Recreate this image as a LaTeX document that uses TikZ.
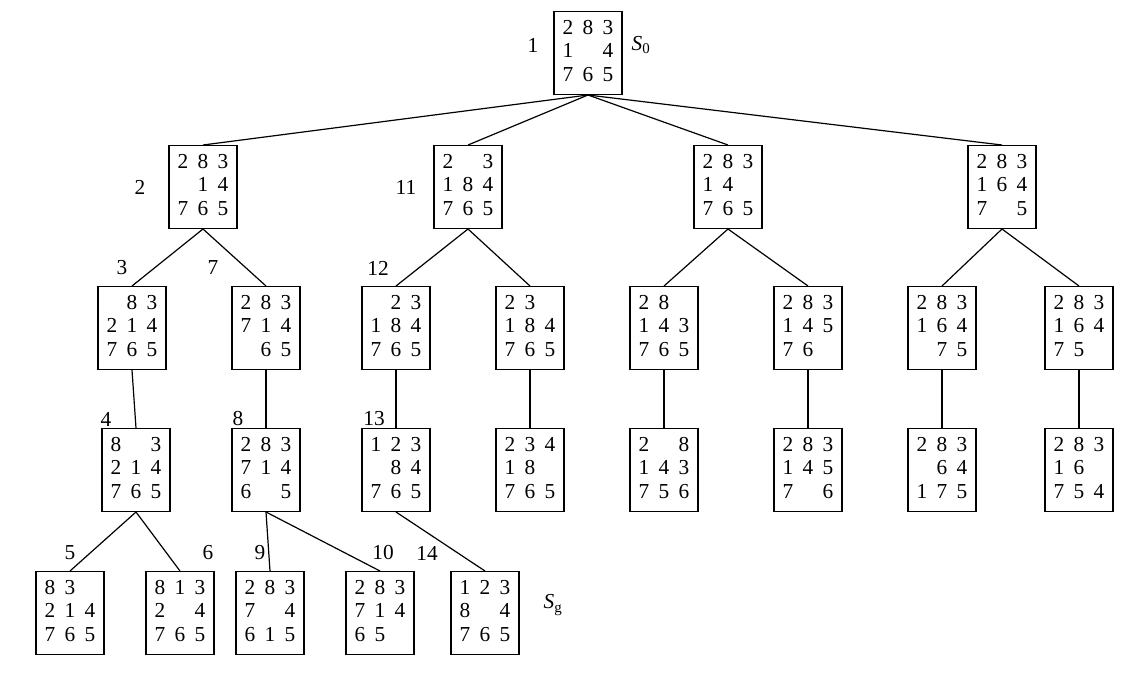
\documentclass[tikz,border=0pt]{standalone}
\usepackage{fontspec}
\usepackage{array}
\setmainfont{Liberation Serif}
\begin{document}
\begin{tikzpicture}[x=0.75pt,y=-0.75pt,
  box/.style={draw,line width=1pt,minimum width=51pt,minimum height=62pt,inner sep=0pt,font=\fontsize{16}{16}\selectfont},
  lab/.style={font=\fontsize{16}{16}\selectfont},
  edge/.style={line width=0.9pt}]
\useasboundingbox (0,0) rectangle (1146,693);
\setlength\tabcolsep{0pt}
\newcommand\pz[4]{\node[box] (#1) at (#2,#3) {\renewcommand\arraystretch{1.1}\begin{tabular}{*3{wc{15pt}}}#4\end{tabular}};}
\pz{r}{588}{53}{2&8&3\\1&&4\\7&6&5}
\pz{a}{203}{187}{2&8&3\\&1&4\\7&6&5}
\pz{b}{468}{187}{2&&3\\1&8&4\\7&6&5}
\pz{c}{728}{187}{2&8&3\\1&4&\\7&6&5}
\pz{d}{1002}{187}{2&8&3\\1&6&4\\7&&5}
\pz{a1}{132}{328}{&8&3\\2&1&4\\7&6&5}
\pz{a2}{266}{328}{2&8&3\\7&1&4\\&6&5}
\pz{b1}{396}{328}{&2&3\\1&8&4\\7&6&5}
\pz{b2}{530}{328}{2&3&\\1&8&4\\7&6&5}
\pz{c1}{664}{328}{2&8&\\1&4&3\\7&6&5}
\pz{c2}{808}{328}{2&8&3\\1&4&5\\7&6&}
\pz{d1}{942}{328}{2&8&3\\1&6&4\\&7&5}
\pz{d2}{1079}{328}{2&8&3\\1&6&4\\7&5&}
\pz{a11}{136}{470}{8&&3\\2&1&4\\7&6&5}
\pz{a21}{266}{470}{2&8&3\\7&1&4\\6&&5}
\pz{b11}{396}{470}{1&2&3\\&8&4\\7&6&5}
\pz{b21}{530}{470}{2&3&4\\1&8&\\7&6&5}
\pz{c11}{664}{470}{2&&8\\1&4&3\\7&5&6}
\pz{c21}{808}{470}{2&8&3\\1&4&5\\7&&6}
\pz{d11}{942}{470}{2&8&3\\&6&4\\1&7&5}
\pz{d21}{1079}{470}{2&8&3\\1&6&\\7&5&4}
\pz{e1}{70}{613}{8&3&\\2&1&4\\7&6&5}
\pz{e2}{180}{613}{8&1&3\\2&&4\\7&6&5}
\pz{e3}{270}{613}{2&8&3\\7&&4\\6&1&5}
\pz{e4}{380}{613}{2&8&3\\7&1&4\\6&5&}
\pz{e5}{485}{613}{1&2&3\\8&&4\\7&6&5}
\foreach \p/\c in {r/a,r/b,r/c,r/d,a/a1,a/a2,b/b1,b/b2,c/c1,c/c2,d/d1,d/d2,
  a1/a11,a2/a21,b1/b11,b2/b21,c1/c11,c2/c21,d1/d11,d2/d21,a11/e1,a11/e2,a21/e3,a21/e4,b11/e5}
  \draw[edge] (\p.south) -- (\c.north);
\node[lab] (l1) at (533,45) {1};
\node[lab] (s0) at (641,45) {\textit{S}\textsubscript{0}};
\node[lab] (l2) at (140,187) {2};
\node[lab] (l11) at (406,187) {11};
\node[lab] (l3) at (122,268) {3};
\node[lab] (l7) at (213,268) {7};
\node[lab] (l12) at (378,268) {12};
\node[lab] (l4) at (106,419) {4};
\node[lab] (l8) at (238,419) {8};
\node[lab] (l13) at (374,419) {13};
\node[lab] (l5) at (70,553) {5};
\node[lab] (l6) at (208,553) {6};
\node[lab] (l9) at (260,553) {9};
\node[lab] (l10) at (383,553) {10};
\node[lab] (l14) at (427,553) {14};
\node[lab] (sg) at (553,605) {\textit{S}\textsubscript{g}};
\end{tikzpicture}
\end{document}
